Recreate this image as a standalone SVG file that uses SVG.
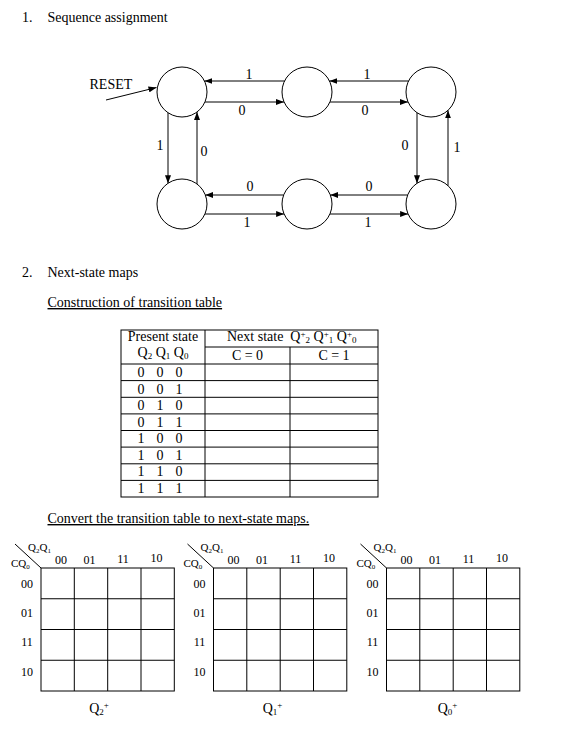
<svg xmlns="http://www.w3.org/2000/svg" width="576" height="738" viewBox="0 0 576 738">
<defs>
<marker id="ah" markerWidth="8" markerHeight="6" refX="8" refY="3" orient="auto" markerUnits="userSpaceOnUse">
<path d="M0,0 L8,3 L0,6 z" fill="#000"/>
</marker>
<style>
text{font-family:"Liberation Serif","Times New Roman",serif;fill:#000}
.h{font-size:14px}
.u{text-decoration:underline}
.lbl{font-size:14px;text-anchor:middle}
.st{fill:#fff;stroke:#000;stroke-width:1}
.cn line{stroke:#000;stroke-width:1;marker-end:url(#ah)}
.tb{font-size:14px;text-anchor:middle}
.grid{fill:none;stroke:#000;stroke-width:1}
.km{font-size:12px;text-anchor:middle}
.kv{font-size:11px}
</style>
</defs>
<rect width="576" height="738" fill="#fff"/>

<!-- headings -->
<text class="h" x="22" y="22">1.</text>
<text class="h" x="47.5" y="22">Sequence assignment</text>
<text class="h" x="22" y="277">2.</text>
<text class="h" x="47.5" y="277">Next-state maps</text>
<text class="h u" x="47.5" y="307">Construction of transition table</text>
<text class="h u" x="47.5" y="523">Convert the transition table to next-state maps.</text>

<!-- state nodes -->
<g id="s1"><circle class="st" cx="182" cy="92" r="25"/></g>
<g id="s2"><circle class="st" cx="307" cy="92" r="25"/></g>
<g id="s3"><circle class="st" cx="431" cy="92" r="25"/></g>
<g id="s4"><circle class="st" cx="182" cy="204" r="25"/></g>
<g id="s5"><circle class="st" cx="307" cy="204" r="25"/></g>
<g id="s6"><circle class="st" cx="431" cy="204" r="25"/></g>

<!-- connectors -->
<g id="connectors" class="cn">
<line x1="106" y1="100" x2="156.5" y2="87.5"/>
<line x1="284.6" y1="81" x2="204.4" y2="81"/>
<line x1="205" y1="102" x2="284" y2="102"/>
<line x1="408.6" y1="81" x2="329.4" y2="81"/>
<line x1="330" y1="102" x2="408" y2="102"/>
<line x1="283.7" y1="195" x2="205.3" y2="195"/>
<line x1="204.9" y1="214" x2="284.1" y2="214"/>
<line x1="407.7" y1="195" x2="330.3" y2="195"/>
<line x1="329.9" y1="214" x2="408.1" y2="214"/>
<line x1="168" y1="112.7" x2="168" y2="183.3"/>
<line x1="197" y1="184" x2="197" y2="112"/>
<line x1="417" y1="112.7" x2="417" y2="183.3"/>
<line x1="448" y1="185.7" x2="448" y2="110.3"/>
</g>

<!-- connector labels -->
<g id="labels">
<text class="h" x="89.5" y="89">RESET</text>
<text class="lbl" x="249" y="79">1</text>
<text class="lbl" x="242" y="114.5">0</text>
<text class="lbl" x="367" y="79">1</text>
<text class="lbl" x="365" y="114.5">0</text>
<text class="lbl" x="160" y="150">1</text>
<text class="lbl" x="204" y="156">0</text>
<text class="lbl" x="405" y="150">0</text>
<text class="lbl" x="457" y="152">1</text>
<text class="lbl" x="250" y="191">0</text>
<text class="lbl" x="247" y="227">1</text>
<text class="lbl" x="369" y="191">0</text>
<text class="lbl" x="368" y="227">1</text>
</g>

<!-- transition table -->
<g id="table">
<rect class="grid" x="121" y="330" width="257" height="167"/>
<line class="grid" x1="205" y1="330" x2="205" y2="497"/>
<line class="grid" x1="290" y1="347" x2="290" y2="497"/>
<line class="grid" x1="205" y1="347" x2="378" y2="347"/>
<line class="grid" x1="121" y1="364" x2="378" y2="364"/>
<line class="grid" x1="121" y1="380.6" x2="378" y2="380.6"/>
<line class="grid" x1="121" y1="397.3" x2="378" y2="397.3"/>
<line class="grid" x1="121" y1="413.9" x2="378" y2="413.9"/>
<line class="grid" x1="121" y1="430.5" x2="378" y2="430.5"/>
<line class="grid" x1="121" y1="447.1" x2="378" y2="447.1"/>
<line class="grid" x1="121" y1="463.8" x2="378" y2="463.8"/>
<line class="grid" x1="121" y1="480.4" x2="378" y2="480.4"/>
<text class="tb" x="163" y="341">Present state</text>
<text class="tb" x="163" y="357">Q<tspan font-size="9" dy="2">2</tspan><tspan dy="-2"> Q</tspan><tspan font-size="9" dy="2">1</tspan><tspan dy="-2"> Q</tspan><tspan font-size="9" dy="2">0</tspan></text>
<text font-size="14" x="227" y="341" xml:space="preserve">Next state  Q<tspan font-size="9" dy="-4">+</tspan><tspan font-size="9" dy="6">2</tspan><tspan dy="-2"> Q</tspan><tspan font-size="9" dy="-4">+</tspan><tspan font-size="9" dy="6">1</tspan><tspan dy="-2"> Q</tspan><tspan font-size="9" dy="-4">+</tspan><tspan font-size="9" dy="6">0</tspan></text>
<text class="tb" x="247.5" y="360">C = 0</text>
<text class="tb" x="334" y="360">C = 1</text>
<text class="tb" x="141 160 179" y="377">000</text>
<text class="tb" x="141 160 179" y="393.5">001</text>
<text class="tb" x="141 160 179" y="410">010</text>
<text class="tb" x="141 160 179" y="426.5">011</text>
<text class="tb" x="141 160 179" y="443">100</text>
<text class="tb" x="141 160 179" y="459.5">101</text>
<text class="tb" x="141 160 179" y="476">110</text>
<text class="tb" x="141 160 179" y="493">111</text>
</g>

<!-- K-map 1 -->
<g id="kmap-q2" transform="translate(41,0)">
<line class="grid" x1="-26" y1="544" x2="0" y2="568"/>
<text class="kv" x="-13" y="551">Q<tspan font-size="7" dy="2">2</tspan><tspan dy="-2">Q</tspan><tspan font-size="7" dy="2">1</tspan></text>
<text class="kv" x="-30" y="567">CQ<tspan font-size="7" dy="2">0</tspan></text>
<rect class="grid" x="0" y="568" width="133.3" height="123"/>
<path class="grid" d="M33.3,568V691M66.7,568V691M100,568V691M0,598.75H133.3M0,629.5H133.3M0,660.25H133.3"/>
<text class="km" x="20" y="564">00</text><text class="km" x="48.5" y="563.5">01</text><text class="km" x="82" y="563">11</text><text class="km" x="115.5" y="562">10</text>
<text class="km" x="-14" y="588">00</text><text class="km" x="-14" y="617">01</text><text class="km" x="-14" y="646">11</text><text class="km" x="-14" y="676">10</text>
<text class="tb" x="58" y="713">Q<tspan font-size="9" dy="2">2</tspan><tspan font-size="9" dy="-7">+</tspan></text>
</g>

<!-- K-map 2 -->
<g id="kmap-q1" transform="translate(213.5,0)">
<line class="grid" x1="-26" y1="544" x2="0" y2="568"/>
<text class="kv" x="-13" y="551">Q<tspan font-size="7" dy="2">2</tspan><tspan dy="-2">Q</tspan><tspan font-size="7" dy="2">1</tspan></text>
<text class="kv" x="-30" y="567">CQ<tspan font-size="7" dy="2">0</tspan></text>
<rect class="grid" x="0" y="568" width="133.3" height="123"/>
<path class="grid" d="M33.3,568V691M66.7,568V691M100,568V691M0,598.75H133.3M0,629.5H133.3M0,660.25H133.3"/>
<text class="km" x="20" y="564">00</text><text class="km" x="48.5" y="563.5">01</text><text class="km" x="82" y="563">11</text><text class="km" x="115.5" y="562">10</text>
<text class="km" x="-14" y="588">00</text><text class="km" x="-14" y="617">01</text><text class="km" x="-14" y="646">11</text><text class="km" x="-14" y="676">10</text>
<text class="tb" x="59" y="713">Q<tspan font-size="9" dy="2">1</tspan><tspan font-size="9" dy="-7">+</tspan></text>
</g>

<!-- K-map 3 -->
<g id="kmap-q0" transform="translate(386.5,0)">
<line class="grid" x1="-26" y1="544" x2="0" y2="568"/>
<text class="kv" x="-13" y="551">Q<tspan font-size="7" dy="2">2</tspan><tspan dy="-2">Q</tspan><tspan font-size="7" dy="2">1</tspan></text>
<text class="kv" x="-30" y="567">CQ<tspan font-size="7" dy="2">0</tspan></text>
<rect class="grid" x="0" y="568" width="133.3" height="123"/>
<path class="grid" d="M33.3,568V691M66.7,568V691M100,568V691M0,598.75H133.3M0,629.5H133.3M0,660.25H133.3"/>
<text class="km" x="20" y="564">00</text><text class="km" x="48.5" y="563.5">01</text><text class="km" x="82" y="563">11</text><text class="km" x="115.5" y="562">10</text>
<text class="km" x="-14" y="588">00</text><text class="km" x="-14" y="617">01</text><text class="km" x="-14" y="646">11</text><text class="km" x="-14" y="676">10</text>
<text class="tb" x="61" y="713">Q<tspan font-size="9" dy="2">0</tspan><tspan font-size="9" dy="-7">+</tspan></text>
</g>
</svg>
